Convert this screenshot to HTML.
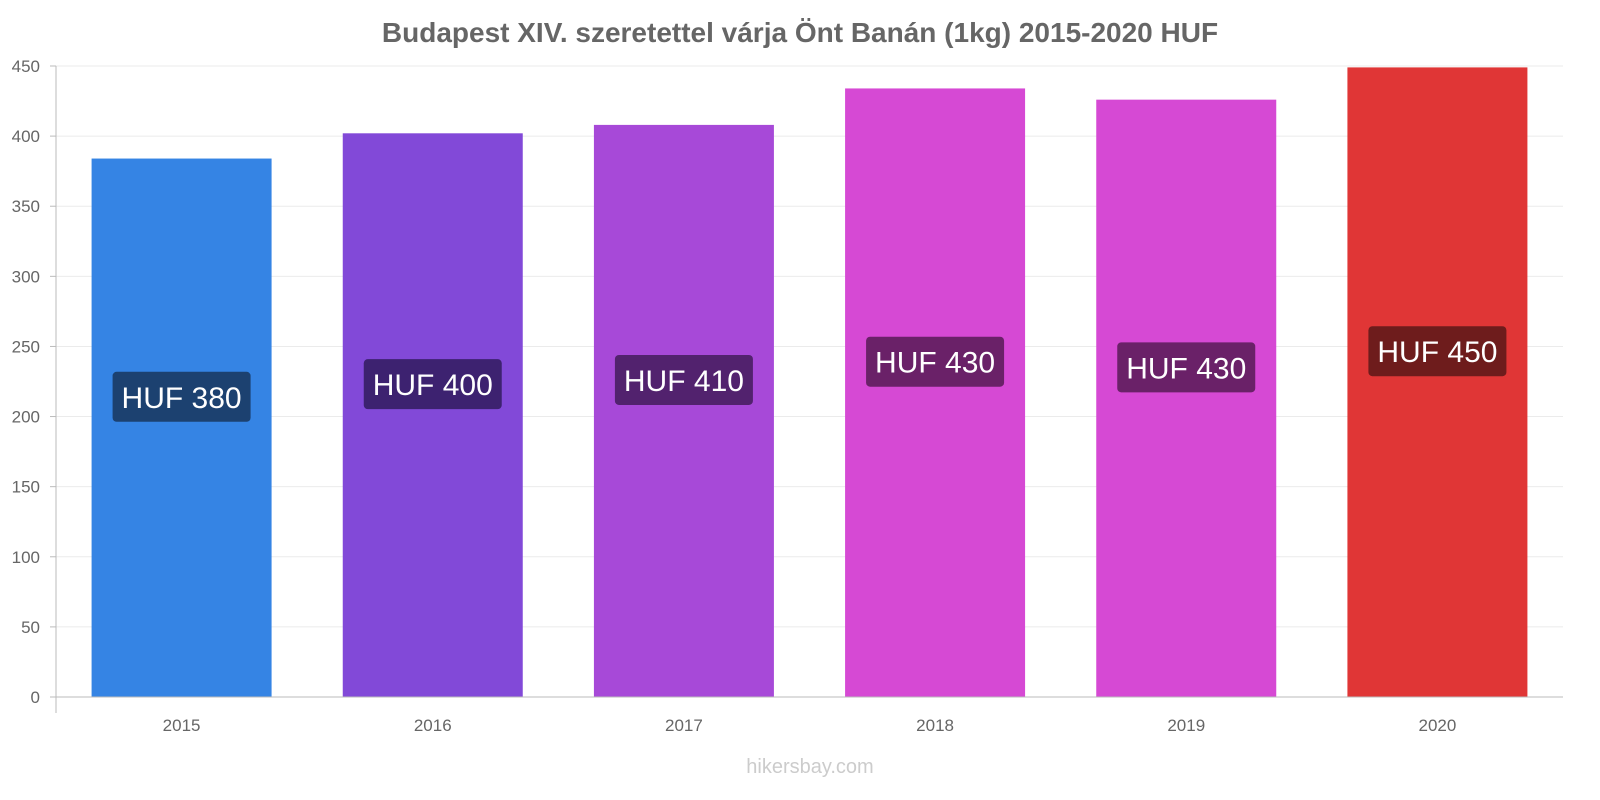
<!DOCTYPE html>
<html><head><meta charset="utf-8"><style>
html,body{margin:0;padding:0;background:#fff;font-family:"Liberation Sans",sans-serif;overflow:hidden;width:1600px;height:800px}
svg{display:block}
</style></head><body>
<svg id="chart" width="1600" height="800" xmlns="http://www.w3.org/2000/svg">
<text x="800" y="42" text-anchor="middle" font-size="28" font-weight="bold" fill="#666">Budapest XIV. szeretettel várja Önt Banán (1kg) 2015-2020 HUF</text>
<g id="grid"></g><g id="bars"></g><g id="axes"></g>
<text x="810" y="773" text-anchor="middle" font-size="20" fill="#ccc">hikersbay.com</text>
</svg>
<script>
const categories=["2015","2016","2017","2018","2019","2020"];
const values=[384,402,408,434,426,449];
const labels=["HUF 380","HUF 400","HUF 410","HUF 430","HUF 430","HUF 450"];
const yTicks=[0,50,100,150,200,250,300,350,400,450];
const colors=["#3584e4","#8249d8","#a749d8","#d649d4","#d649d4","#e03636"];
const labelColors=["#1c4170","#3d2270","#52226e","#6a2168","#6a2168","#6e1c1c"];
const NS="http://www.w3.org/2000/svg";
const x0=56,x1=1563,yBase=697,yTop=66,yMax=450;
const y=v=>yBase-(v/yMax)*(yBase-yTop);
const bw=(x1-x0)/categories.length;
const xc=i=>x0+bw*(i+0.5);
function mk(t,a,p){const e=document.createElementNS(NS,t);for(const k in a)e.setAttribute(k,a[k]);p.appendChild(e);return e;}
const grid=document.getElementById('grid'),bars=document.getElementById('bars'),axes=document.getElementById('axes');
yTicks.forEach(v=>{
 const l=mk('line',{x1:x0,x2:x1,y1:y(v),y2:y(v),stroke:'#ebebeb'},grid);
 
 
 const tk=mk('line',{x1:x0-6,x2:x0,y1:y(v),y2:y(v),stroke:'#bbb'},axes);
 
 
 const t=mk('text',{x:x0-16,y:y(v)+6,'text-anchor':'end','font-size':17,fill:'#666'},axes);
 t.textContent=v;
 
 
});
categories.forEach((c,i)=>{
 const top=y(values[i]);
 const r=mk('rect',{x:xc(i)-90,y:top,width:180,height:yBase-top,fill:colors[i]},bars);
 
 
 const cy=(top+yBase)/2-31;
 const b=mk('rect',{x:xc(i)-69,y:cy-25,width:138,height:50,rx:4,fill:labelColors[i]},bars);
 
 
 const t=mk('text',{x:xc(i),y:cy+11,'text-anchor':'middle','font-size':30,fill:'#fff'},bars);
 t.textContent=labels[i];
 
 
 const xt=mk('text',{x:xc(i),y:731,'text-anchor':'middle','font-size':17,fill:'#666'},axes);
 xt.textContent=c;
 
 
});
const ya=mk('line',{x1:x0,x2:x0,y1:yTop,y2:713,stroke:'#bbb'},axes);


const xa=mk('line',{x1:x0,x2:x1,y1:yBase,y2:yBase,stroke:'#bbb'},axes);


</script>
</body></html>
